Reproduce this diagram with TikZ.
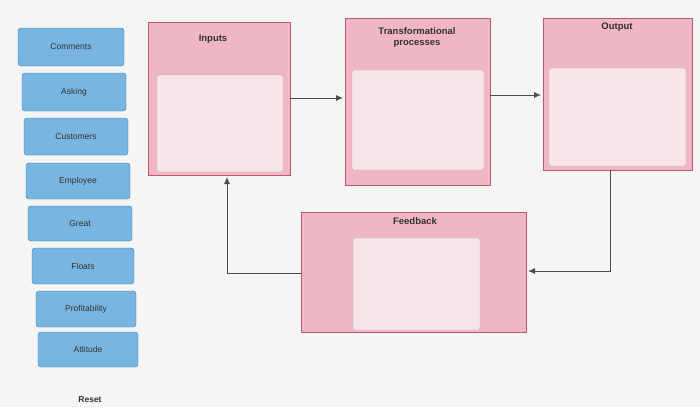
\documentclass[tikz,border=0pt]{standalone}
\usepackage{fontspec}
\setmainfont{Liberation Sans}
\usetikzlibrary{arrows.meta}
\begin{document}
\begin{tikzpicture}[x=1pt,y=-1pt,
  btn/.style={draw={rgb,255:red,60;green,120;blue,170},fill={rgb,255:red,120;green,182;blue,225},rounded corners=3pt,font=\fontsize{8.5}{10}\selectfont,text=black!80},
  pbox/.style={draw={rgb,255:red,190;green,90;blue,110},fill={rgb,255:red,240;green,182;blue,198},line width=0.8pt},
  ibox/.style={draw=gray!60,fill={rgb,255:red,248;green,228;blue,232},rounded corners=2pt},
  ttl/.style={font=\bfseries\fontsize{9.5}{11}\selectfont,align=center,text=black!80},
  arr/.style={draw=black!70,line width=0.9pt,-{Latex[length=7pt,width=6pt]}}]
\fill[gray!8] (0,0) rectangle (700,407);
\useasboundingbox (0,0) rectangle (700,407);
\foreach \n/\a/\b/\c/\d/\t in {c1/18/28/124/66/Comments,c2/22/73/126/111/Asking,c3/24/118/128/155/Customers,c4/26/163/130/199/Employee,c5/28/206/132/241/Great,c6/32/248/134/284/Floats,c7/36/291/136/327/Profitability,c8/38/332/138/367/Attitude}
  \draw[btn] (\a,\b) rectangle (\c,\d) node[midway] (\n) {\t};
\node[font=\bfseries\fontsize{8.5}{10}\selectfont,text=black!80] (reset) at (90,400) {Reset};
\draw[pbox] (148,22) rectangle (290,175);
\node[ttl] (in) at (213,39) {Inputs};
\draw[ibox] (157,75) rectangle (283,172);
\draw[pbox] (345,18) rectangle (490,185);
\node[ttl] (tr) at (417,38) {Transformational\\processes};
\draw[ibox] (352,70) rectangle (484,170);
\draw[pbox] (543,18) rectangle (692,170);
\node[ttl] (out) at (617,27) {Output};
\draw[ibox] (549,68) rectangle (686,166);
\draw[pbox] (301,212) rectangle (526,332);
\node[ttl] (fb) at (415,221) {Feedback};
\draw[ibox] (353,238) rectangle (480,330);
\coordinate (a1) at (290,98); \coordinate (a2) at (343,98);
\coordinate (b1) at (490,95); \coordinate (b2) at (541,95);
\coordinate (o1) at (610,170); \coordinate (o2) at (528,271);
\coordinate (f1) at (301,273); \coordinate (f2) at (227,177);
\draw[arr] (a1) -- (a2);
\draw[arr] (b1) -- (b2);
\draw[arr] (o1) |- (o2);
\draw[arr] (f1) -| (f2);
\end{tikzpicture}
\end{document}
